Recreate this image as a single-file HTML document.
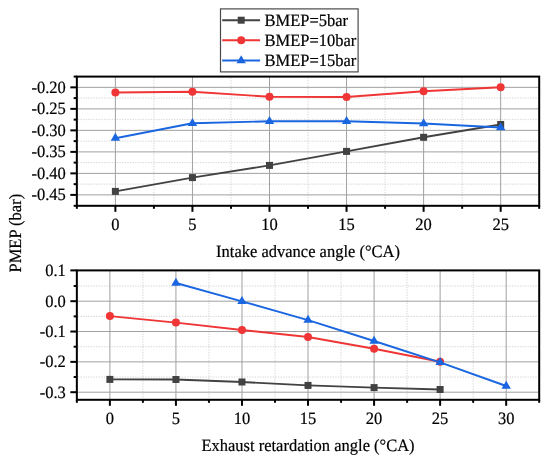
<!DOCTYPE html>
<html><head><meta charset="utf-8"><title>PMEP chart</title>
<style>html,body{margin:0;padding:0;background:#fff;}svg{display:block;}</style>
</head><body>
<svg width="550" height="459" viewBox="0 0 550 459" font-family='"Liberation Serif", "Times New Roman", serif' font-size="16.5" fill="#000" text-rendering="geometricPrecision">
<rect width="550" height="459" fill="#fff"/>
<line x1="153.91" y1="77.60" x2="153.91" y2="204.80" stroke="#d4d4d4" stroke-width="1" stroke-dasharray="1.3 1.3"/>
<line x1="230.97" y1="77.60" x2="230.97" y2="204.80" stroke="#d4d4d4" stroke-width="1" stroke-dasharray="1.3 1.3"/>
<line x1="308.02" y1="77.60" x2="308.02" y2="204.80" stroke="#d4d4d4" stroke-width="1" stroke-dasharray="1.3 1.3"/>
<line x1="385.08" y1="77.60" x2="385.08" y2="204.80" stroke="#d4d4d4" stroke-width="1" stroke-dasharray="1.3 1.3"/>
<line x1="462.14" y1="77.60" x2="462.14" y2="204.80" stroke="#d4d4d4" stroke-width="1" stroke-dasharray="1.3 1.3"/>
<line x1="77.85" y1="184.14" x2="538.20" y2="184.14" stroke="#d4d4d4" stroke-width="1" stroke-dasharray="1.3 1.3"/>
<line x1="77.85" y1="162.63" x2="538.20" y2="162.63" stroke="#d4d4d4" stroke-width="1" stroke-dasharray="1.3 1.3"/>
<line x1="77.85" y1="141.12" x2="538.20" y2="141.12" stroke="#d4d4d4" stroke-width="1" stroke-dasharray="1.3 1.3"/>
<line x1="77.85" y1="119.62" x2="538.20" y2="119.62" stroke="#d4d4d4" stroke-width="1" stroke-dasharray="1.3 1.3"/>
<line x1="77.85" y1="98.10" x2="538.20" y2="98.10" stroke="#d4d4d4" stroke-width="1" stroke-dasharray="1.3 1.3"/>
<line x1="115.38" y1="76.60" x2="115.38" y2="205.80" stroke="#a0a0a0" stroke-width="1"/>
<line x1="192.44" y1="76.60" x2="192.44" y2="205.80" stroke="#a0a0a0" stroke-width="1"/>
<line x1="269.50" y1="76.60" x2="269.50" y2="205.80" stroke="#a0a0a0" stroke-width="1"/>
<line x1="346.55" y1="76.60" x2="346.55" y2="205.80" stroke="#a0a0a0" stroke-width="1"/>
<line x1="423.61" y1="76.60" x2="423.61" y2="205.80" stroke="#a0a0a0" stroke-width="1"/>
<line x1="500.67" y1="76.60" x2="500.67" y2="205.80" stroke="#a0a0a0" stroke-width="1"/>
<line x1="76.85" y1="194.90" x2="539.20" y2="194.90" stroke="#a0a0a0" stroke-width="1"/>
<line x1="76.85" y1="173.39" x2="539.20" y2="173.39" stroke="#a0a0a0" stroke-width="1"/>
<line x1="76.85" y1="151.88" x2="539.20" y2="151.88" stroke="#a0a0a0" stroke-width="1"/>
<line x1="76.85" y1="130.37" x2="539.20" y2="130.37" stroke="#a0a0a0" stroke-width="1"/>
<line x1="76.85" y1="108.86" x2="539.20" y2="108.86" stroke="#a0a0a0" stroke-width="1"/>
<line x1="76.85" y1="87.35" x2="539.20" y2="87.35" stroke="#a0a0a0" stroke-width="1"/>
<line x1="76.85" y1="205.80" x2="76.85" y2="208.80" stroke="#000" stroke-width="2.0"/>
<line x1="115.38" y1="205.80" x2="115.38" y2="211.80" stroke="#000" stroke-width="2.0"/>
<line x1="153.91" y1="205.80" x2="153.91" y2="208.80" stroke="#000" stroke-width="2.0"/>
<line x1="192.44" y1="205.80" x2="192.44" y2="211.80" stroke="#000" stroke-width="2.0"/>
<line x1="230.97" y1="205.80" x2="230.97" y2="208.80" stroke="#000" stroke-width="2.0"/>
<line x1="269.50" y1="205.80" x2="269.50" y2="211.80" stroke="#000" stroke-width="2.0"/>
<line x1="308.02" y1="205.80" x2="308.02" y2="208.80" stroke="#000" stroke-width="2.0"/>
<line x1="346.55" y1="205.80" x2="346.55" y2="211.80" stroke="#000" stroke-width="2.0"/>
<line x1="385.08" y1="205.80" x2="385.08" y2="208.80" stroke="#000" stroke-width="2.0"/>
<line x1="423.61" y1="205.80" x2="423.61" y2="211.80" stroke="#000" stroke-width="2.0"/>
<line x1="462.14" y1="205.80" x2="462.14" y2="208.80" stroke="#000" stroke-width="2.0"/>
<line x1="500.67" y1="205.80" x2="500.67" y2="211.80" stroke="#000" stroke-width="2.0"/>
<line x1="539.20" y1="205.80" x2="539.20" y2="208.80" stroke="#000" stroke-width="2.0"/>
<line x1="76.85" y1="205.80" x2="73.65" y2="205.80" stroke="#000" stroke-width="2.0"/>
<line x1="76.85" y1="194.90" x2="70.35" y2="194.90" stroke="#000" stroke-width="2.0"/>
<line x1="76.85" y1="184.14" x2="73.65" y2="184.14" stroke="#000" stroke-width="2.0"/>
<line x1="76.85" y1="173.39" x2="70.35" y2="173.39" stroke="#000" stroke-width="2.0"/>
<line x1="76.85" y1="162.63" x2="73.65" y2="162.63" stroke="#000" stroke-width="2.0"/>
<line x1="76.85" y1="151.88" x2="70.35" y2="151.88" stroke="#000" stroke-width="2.0"/>
<line x1="76.85" y1="141.12" x2="73.65" y2="141.12" stroke="#000" stroke-width="2.0"/>
<line x1="76.85" y1="130.37" x2="70.35" y2="130.37" stroke="#000" stroke-width="2.0"/>
<line x1="76.85" y1="119.62" x2="73.65" y2="119.62" stroke="#000" stroke-width="2.0"/>
<line x1="76.85" y1="108.86" x2="70.35" y2="108.86" stroke="#000" stroke-width="2.0"/>
<line x1="76.85" y1="98.10" x2="73.65" y2="98.10" stroke="#000" stroke-width="2.0"/>
<line x1="76.85" y1="87.35" x2="70.35" y2="87.35" stroke="#000" stroke-width="2.0"/>
<line x1="76.85" y1="76.60" x2="73.65" y2="76.60" stroke="#000" stroke-width="2.0"/>
<rect x="76.85" y="76.60" width="462.35" height="129.20" fill="none" stroke="#000" stroke-width="2.0"/>
<text transform="translate(65.80,92.75) scale(1,1.05)" text-anchor="end" stroke="#000" stroke-width="0.2">-0.20</text>
<text transform="translate(65.80,114.26) scale(1,1.05)" text-anchor="end" stroke="#000" stroke-width="0.2">-0.25</text>
<text transform="translate(65.80,135.77) scale(1,1.05)" text-anchor="end" stroke="#000" stroke-width="0.2">-0.30</text>
<text transform="translate(65.80,157.28) scale(1,1.05)" text-anchor="end" stroke="#000" stroke-width="0.2">-0.35</text>
<text transform="translate(65.80,178.79) scale(1,1.05)" text-anchor="end" stroke="#000" stroke-width="0.2">-0.40</text>
<text transform="translate(65.80,200.30) scale(1,1.05)" text-anchor="end" stroke="#000" stroke-width="0.2">-0.45</text>
<text transform="translate(115.38,229.60) scale(1,1.05)" text-anchor="middle" stroke="#000" stroke-width="0.2">0</text>
<text transform="translate(192.44,229.60) scale(1,1.05)" text-anchor="middle" stroke="#000" stroke-width="0.2">5</text>
<text transform="translate(269.50,229.60) scale(1,1.05)" text-anchor="middle" stroke="#000" stroke-width="0.2">10</text>
<text transform="translate(346.55,229.60) scale(1,1.05)" text-anchor="middle" stroke="#000" stroke-width="0.2">15</text>
<text transform="translate(423.61,229.60) scale(1,1.05)" text-anchor="middle" stroke="#000" stroke-width="0.2">20</text>
<text transform="translate(500.67,229.60) scale(1,1.05)" text-anchor="middle" stroke="#000" stroke-width="0.2">25</text>
<polyline points="115.38,191.40 192.44,177.60 269.50,165.40 346.55,151.40 423.61,137.30 500.67,124.50" fill="none" stroke="#424242" stroke-width="1.9" stroke-linejoin="round"/>
<rect x="111.88" y="187.90" width="7" height="7" fill="#424242"/>
<rect x="188.94" y="174.10" width="7" height="7" fill="#424242"/>
<rect x="266.00" y="161.90" width="7" height="7" fill="#424242"/>
<rect x="343.05" y="147.90" width="7" height="7" fill="#424242"/>
<rect x="420.11" y="133.80" width="7" height="7" fill="#424242"/>
<rect x="497.17" y="121.00" width="7" height="7" fill="#424242"/>
<polyline points="115.38,92.50 192.44,91.70 269.50,96.80 346.55,97.00 423.61,91.30 500.67,87.30" fill="none" stroke="#ef3535" stroke-width="1.9" stroke-linejoin="round"/>
<circle cx="115.38" cy="92.50" r="4" fill="#ef3535"/>
<circle cx="192.44" cy="91.70" r="4" fill="#ef3535"/>
<circle cx="269.50" cy="96.80" r="4" fill="#ef3535"/>
<circle cx="346.55" cy="97.00" r="4" fill="#ef3535"/>
<circle cx="423.61" cy="91.30" r="4" fill="#ef3535"/>
<circle cx="500.67" cy="87.30" r="4" fill="#ef3535"/>
<polyline points="115.38,138.20 192.44,123.30 269.50,121.30 346.55,121.30 423.61,123.50 500.67,127.50" fill="none" stroke="#1a66e0" stroke-width="1.9" stroke-linejoin="round"/>
<polygon points="115.38,132.87 120.08,140.87 110.68,140.87" fill="#1a66e0"/>
<polygon points="192.44,117.97 197.14,125.97 187.74,125.97" fill="#1a66e0"/>
<polygon points="269.50,115.97 274.20,123.97 264.80,123.97" fill="#1a66e0"/>
<polygon points="346.55,115.97 351.25,123.97 341.85,123.97" fill="#1a66e0"/>
<polygon points="423.61,118.17 428.31,126.17 418.91,126.17" fill="#1a66e0"/>
<polygon points="500.67,122.17 505.37,130.17 495.97,130.17" fill="#1a66e0"/>
<line x1="142.90" y1="271.40" x2="142.90" y2="398.80" stroke="#d4d4d4" stroke-width="1" stroke-dasharray="1.3 1.3"/>
<line x1="208.95" y1="271.40" x2="208.95" y2="398.80" stroke="#d4d4d4" stroke-width="1" stroke-dasharray="1.3 1.3"/>
<line x1="275.00" y1="271.40" x2="275.00" y2="398.80" stroke="#d4d4d4" stroke-width="1" stroke-dasharray="1.3 1.3"/>
<line x1="341.05" y1="271.40" x2="341.05" y2="398.80" stroke="#d4d4d4" stroke-width="1" stroke-dasharray="1.3 1.3"/>
<line x1="407.10" y1="271.40" x2="407.10" y2="398.80" stroke="#d4d4d4" stroke-width="1" stroke-dasharray="1.3 1.3"/>
<line x1="473.15" y1="271.40" x2="473.15" y2="398.80" stroke="#d4d4d4" stroke-width="1" stroke-dasharray="1.3 1.3"/>
<line x1="77.85" y1="377.03" x2="538.20" y2="377.03" stroke="#d4d4d4" stroke-width="1" stroke-dasharray="1.3 1.3"/>
<line x1="77.85" y1="346.70" x2="538.20" y2="346.70" stroke="#d4d4d4" stroke-width="1" stroke-dasharray="1.3 1.3"/>
<line x1="77.85" y1="316.37" x2="538.20" y2="316.37" stroke="#d4d4d4" stroke-width="1" stroke-dasharray="1.3 1.3"/>
<line x1="77.85" y1="286.03" x2="538.20" y2="286.03" stroke="#d4d4d4" stroke-width="1" stroke-dasharray="1.3 1.3"/>
<line x1="109.88" y1="270.40" x2="109.88" y2="399.80" stroke="#a0a0a0" stroke-width="1"/>
<line x1="175.93" y1="270.40" x2="175.93" y2="399.80" stroke="#a0a0a0" stroke-width="1"/>
<line x1="241.97" y1="270.40" x2="241.97" y2="399.80" stroke="#a0a0a0" stroke-width="1"/>
<line x1="308.02" y1="270.40" x2="308.02" y2="399.80" stroke="#a0a0a0" stroke-width="1"/>
<line x1="374.08" y1="270.40" x2="374.08" y2="399.80" stroke="#a0a0a0" stroke-width="1"/>
<line x1="440.12" y1="270.40" x2="440.12" y2="399.80" stroke="#a0a0a0" stroke-width="1"/>
<line x1="506.18" y1="270.40" x2="506.18" y2="399.80" stroke="#a0a0a0" stroke-width="1"/>
<line x1="76.85" y1="392.20" x2="539.20" y2="392.20" stroke="#a0a0a0" stroke-width="1"/>
<line x1="76.85" y1="361.87" x2="539.20" y2="361.87" stroke="#a0a0a0" stroke-width="1"/>
<line x1="76.85" y1="331.53" x2="539.20" y2="331.53" stroke="#a0a0a0" stroke-width="1"/>
<line x1="76.85" y1="301.20" x2="539.20" y2="301.20" stroke="#a0a0a0" stroke-width="1"/>
<line x1="76.85" y1="399.80" x2="76.85" y2="402.80" stroke="#000" stroke-width="2.0"/>
<line x1="109.88" y1="399.80" x2="109.88" y2="405.80" stroke="#000" stroke-width="2.0"/>
<line x1="142.90" y1="399.80" x2="142.90" y2="402.80" stroke="#000" stroke-width="2.0"/>
<line x1="175.93" y1="399.80" x2="175.93" y2="405.80" stroke="#000" stroke-width="2.0"/>
<line x1="208.95" y1="399.80" x2="208.95" y2="402.80" stroke="#000" stroke-width="2.0"/>
<line x1="241.97" y1="399.80" x2="241.97" y2="405.80" stroke="#000" stroke-width="2.0"/>
<line x1="275.00" y1="399.80" x2="275.00" y2="402.80" stroke="#000" stroke-width="2.0"/>
<line x1="308.02" y1="399.80" x2="308.02" y2="405.80" stroke="#000" stroke-width="2.0"/>
<line x1="341.05" y1="399.80" x2="341.05" y2="402.80" stroke="#000" stroke-width="2.0"/>
<line x1="374.08" y1="399.80" x2="374.08" y2="405.80" stroke="#000" stroke-width="2.0"/>
<line x1="407.10" y1="399.80" x2="407.10" y2="402.80" stroke="#000" stroke-width="2.0"/>
<line x1="440.12" y1="399.80" x2="440.12" y2="405.80" stroke="#000" stroke-width="2.0"/>
<line x1="473.15" y1="399.80" x2="473.15" y2="402.80" stroke="#000" stroke-width="2.0"/>
<line x1="506.18" y1="399.80" x2="506.18" y2="405.80" stroke="#000" stroke-width="2.0"/>
<line x1="539.20" y1="399.80" x2="539.20" y2="402.80" stroke="#000" stroke-width="2.0"/>
<line x1="76.85" y1="392.20" x2="70.35" y2="392.20" stroke="#000" stroke-width="2.0"/>
<line x1="76.85" y1="377.03" x2="73.65" y2="377.03" stroke="#000" stroke-width="2.0"/>
<line x1="76.85" y1="361.87" x2="70.35" y2="361.87" stroke="#000" stroke-width="2.0"/>
<line x1="76.85" y1="346.70" x2="73.65" y2="346.70" stroke="#000" stroke-width="2.0"/>
<line x1="76.85" y1="331.53" x2="70.35" y2="331.53" stroke="#000" stroke-width="2.0"/>
<line x1="76.85" y1="316.37" x2="73.65" y2="316.37" stroke="#000" stroke-width="2.0"/>
<line x1="76.85" y1="301.20" x2="70.35" y2="301.20" stroke="#000" stroke-width="2.0"/>
<line x1="76.85" y1="286.03" x2="73.65" y2="286.03" stroke="#000" stroke-width="2.0"/>
<line x1="76.85" y1="270.40" x2="70.35" y2="270.40" stroke="#000" stroke-width="2.0"/>
<rect x="76.85" y="270.40" width="462.35" height="129.40" fill="none" stroke="#000" stroke-width="2.0"/>
<text transform="translate(65.80,275.80) scale(1,1.05)" text-anchor="end" stroke="#000" stroke-width="0.2">0.1</text>
<text transform="translate(65.80,306.60) scale(1,1.05)" text-anchor="end" stroke="#000" stroke-width="0.2">0.0</text>
<text transform="translate(65.80,336.93) scale(1,1.05)" text-anchor="end" stroke="#000" stroke-width="0.2">-0.1</text>
<text transform="translate(65.80,367.27) scale(1,1.05)" text-anchor="end" stroke="#000" stroke-width="0.2">-0.2</text>
<text transform="translate(65.80,397.60) scale(1,1.05)" text-anchor="end" stroke="#000" stroke-width="0.2">-0.3</text>
<text transform="translate(109.88,423.60) scale(1,1.05)" text-anchor="middle" stroke="#000" stroke-width="0.2">0</text>
<text transform="translate(175.93,423.60) scale(1,1.05)" text-anchor="middle" stroke="#000" stroke-width="0.2">5</text>
<text transform="translate(241.97,423.60) scale(1,1.05)" text-anchor="middle" stroke="#000" stroke-width="0.2">10</text>
<text transform="translate(308.02,423.60) scale(1,1.05)" text-anchor="middle" stroke="#000" stroke-width="0.2">15</text>
<text transform="translate(374.08,423.60) scale(1,1.05)" text-anchor="middle" stroke="#000" stroke-width="0.2">20</text>
<text transform="translate(440.12,423.60) scale(1,1.05)" text-anchor="middle" stroke="#000" stroke-width="0.2">25</text>
<text transform="translate(506.18,423.60) scale(1,1.05)" text-anchor="middle" stroke="#000" stroke-width="0.2">30</text>
<polyline points="109.88,379.40 175.93,379.50 241.97,382.00 308.02,385.40 374.08,387.60 440.12,389.50" fill="none" stroke="#424242" stroke-width="1.9" stroke-linejoin="round"/>
<rect x="106.38" y="375.90" width="7" height="7" fill="#424242"/>
<rect x="172.43" y="376.00" width="7" height="7" fill="#424242"/>
<rect x="238.47" y="378.50" width="7" height="7" fill="#424242"/>
<rect x="304.52" y="381.90" width="7" height="7" fill="#424242"/>
<rect x="370.58" y="384.10" width="7" height="7" fill="#424242"/>
<rect x="436.62" y="386.00" width="7" height="7" fill="#424242"/>
<polyline points="109.88,316.10 175.93,322.60 241.97,330.00 308.02,337.00 374.08,348.80 440.12,361.70" fill="none" stroke="#ef3535" stroke-width="1.9" stroke-linejoin="round"/>
<circle cx="109.88" cy="316.10" r="4" fill="#ef3535"/>
<circle cx="175.93" cy="322.60" r="4" fill="#ef3535"/>
<circle cx="241.97" cy="330.00" r="4" fill="#ef3535"/>
<circle cx="308.02" cy="337.00" r="4" fill="#ef3535"/>
<circle cx="374.08" cy="348.80" r="4" fill="#ef3535"/>
<circle cx="440.12" cy="361.70" r="4" fill="#ef3535"/>
<polyline points="175.93,283.00 241.97,301.30 308.02,320.10 374.08,341.00 440.12,362.30 506.18,386.00" fill="none" stroke="#1a66e0" stroke-width="1.9" stroke-linejoin="round"/>
<polygon points="175.93,277.67 180.62,285.67 171.23,285.67" fill="#1a66e0"/>
<polygon points="241.97,295.97 246.67,303.97 237.28,303.97" fill="#1a66e0"/>
<polygon points="308.02,314.77 312.72,322.77 303.32,322.77" fill="#1a66e0"/>
<polygon points="374.08,335.67 378.78,343.67 369.38,343.67" fill="#1a66e0"/>
<polygon points="440.12,356.97 444.82,364.97 435.43,364.97" fill="#1a66e0"/>
<polygon points="506.18,380.67 510.88,388.67 501.48,388.67" fill="#1a66e0"/>
<text transform="translate(308.00,256.60) scale(1,1.05)" text-anchor="middle" stroke="#000" stroke-width="0.2">Intake advance angle (°CA)</text>
<text transform="translate(308.00,451.10) scale(1,1.05)" text-anchor="middle" stroke="#000" stroke-width="0.2">Exhaust retardation angle (°CA)</text>
<text transform="translate(21.30,233.20) rotate(-90) scale(1,1.05)" text-anchor="middle" stroke="#000" stroke-width="0.2">PMEP (bar)</text>
<rect x="220.5" y="8.9" width="137.6" height="63.0" fill="#fff" stroke="#4a4a4a" stroke-width="1.2"/>
<line x1="222.2" y1="20.2" x2="260.1" y2="20.2" stroke="#424242" stroke-width="1.9"/>
<rect x="237.70" y="16.70" width="7" height="7" fill="#424242"/>
<text transform="translate(264.50,25.50) scale(1,1.05)" stroke="#000" stroke-width="0.2">BMEP=5bar</text>
<line x1="222.2" y1="40.3" x2="260.1" y2="40.3" stroke="#ef3535" stroke-width="1.9"/>
<circle cx="241.20" cy="40.30" r="4" fill="#ef3535"/>
<text transform="translate(264.50,45.70) scale(1,1.05)" stroke="#000" stroke-width="0.2">BMEP=10bar</text>
<line x1="222.2" y1="60.5" x2="260.1" y2="60.5" stroke="#1a66e0" stroke-width="1.9"/>
<polygon points="241.20,55.17 245.90,63.17 236.50,63.17" fill="#1a66e0"/>
<text transform="translate(264.50,66.20) scale(1,1.05)" stroke="#000" stroke-width="0.2">BMEP=15bar</text>
</svg>
</body></html>
